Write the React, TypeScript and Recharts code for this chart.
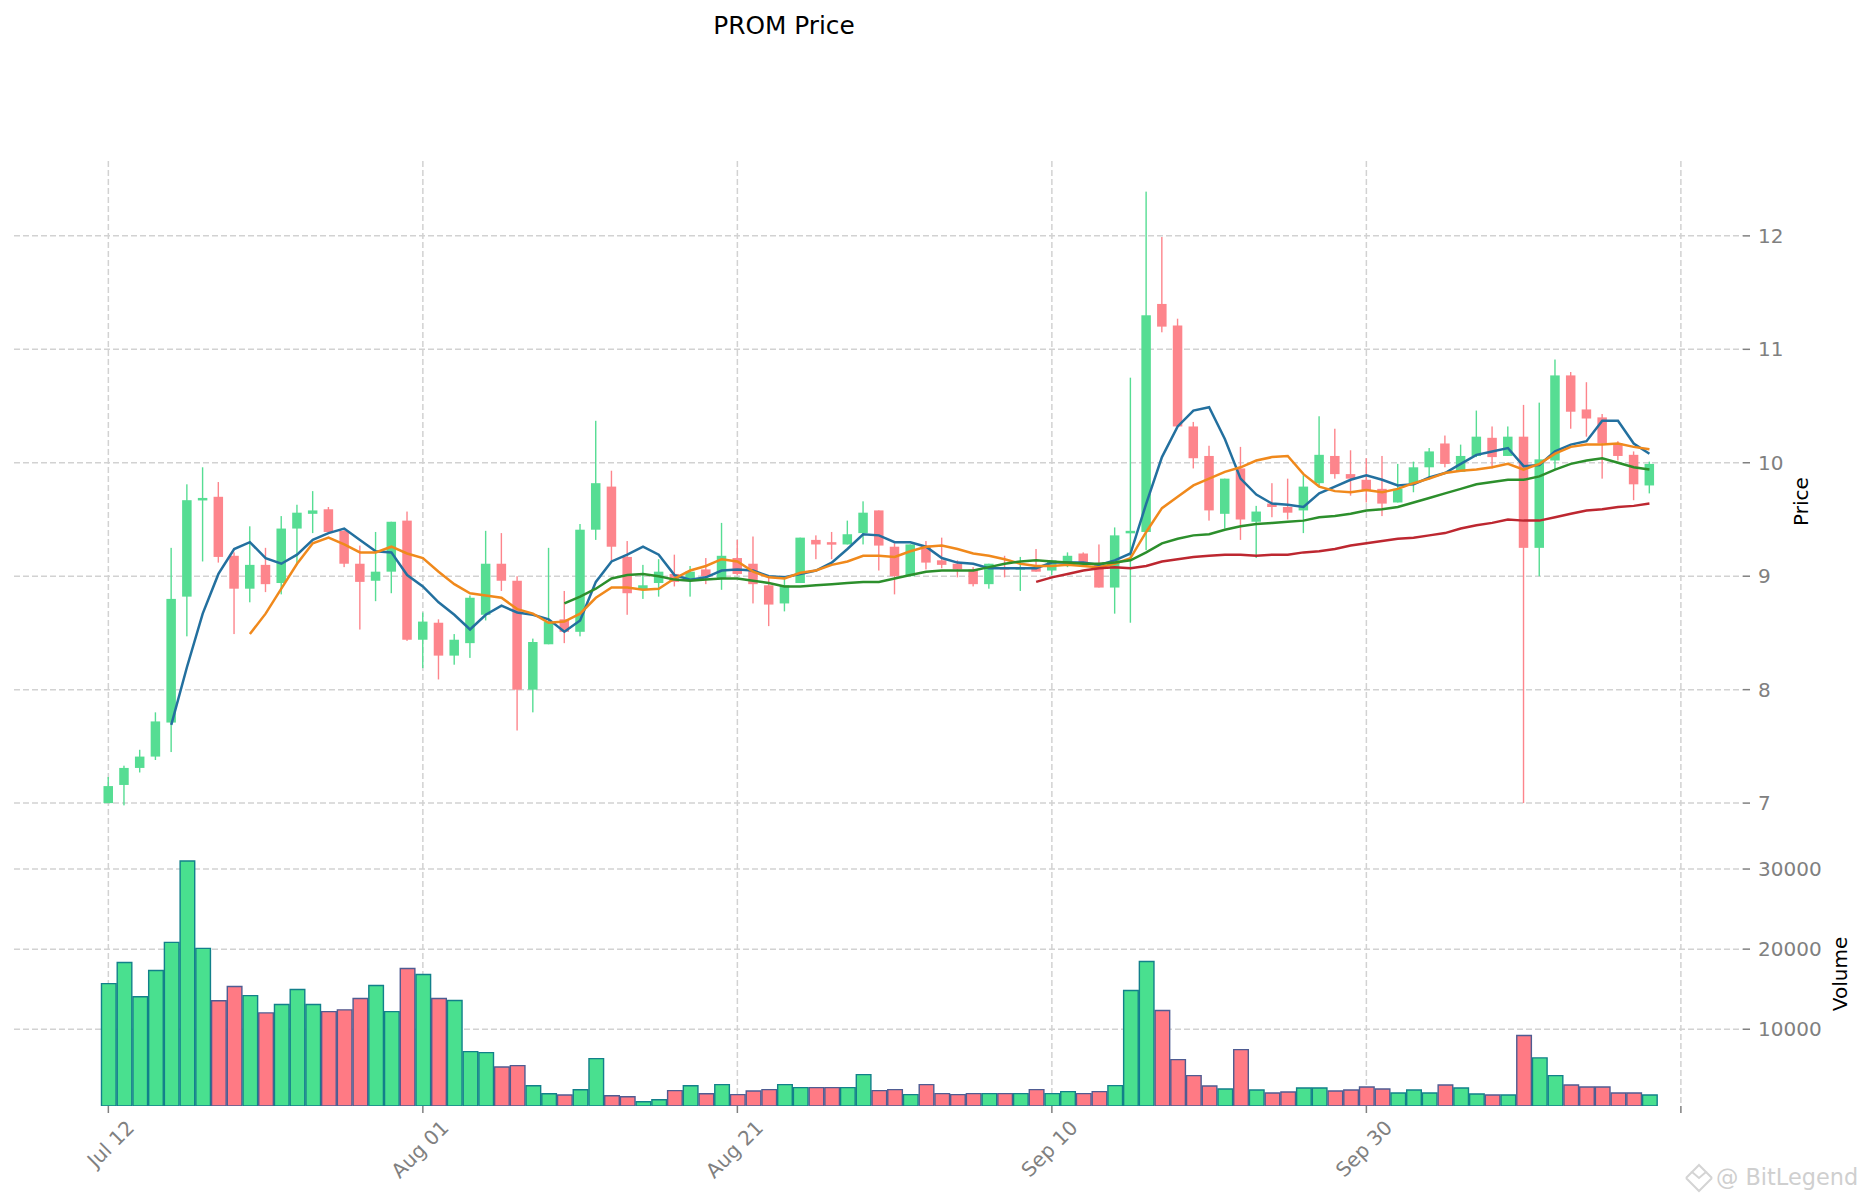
import { Bar, CartesianGrid, Cell, ComposedChart, Line, XAxis, YAxis } from "recharts";

const opens = [
  7.0, 7.16, 7.31, 7.41, 7.71, 8.82, 9.67, 9.7, 9.18, 8.89, 9.1, 8.94, 9.42, 9.55, 9.59, 9.4, 9.11, 8.96, 9.04, 9.49,
  8.44, 8.59, 8.3, 8.41, 8.66, 9.11, 8.96, 8.0, 8.4, 8.62, 8.51, 9.41, 9.79, 9.17, 8.88, 8.94, 9.02, 8.96, 9.06, 8.98,
  9.16, 9.11, 8.92, 8.76, 8.94, 9.32, 9.3, 9.28, 9.38, 9.58, 9.26, 9.0, 9.27, 9.14, 9.11, 9.06, 8.93, 9.08, 9.07, 9.08,
  9.05, 9.11, 9.2, 9.11, 8.9, 9.39, 9.39, 11.4, 11.21, 10.32, 10.06, 9.55, 9.95, 9.48, 9.64, 9.61, 9.58, 9.82, 10.06, 9.9,
  9.85, 9.77, 9.65, 9.82, 9.96, 10.17, 9.92, 10.06, 10.22, 10.06, 10.23, 9.25, 10.02, 10.77, 10.47, 10.4, 10.17, 10.07, 9.8,
];
const closes = [
  7.15, 7.31, 7.41, 7.72, 8.8, 9.67, 9.69, 9.17, 8.89, 9.1, 8.93, 9.42, 9.56, 9.58, 9.39, 9.11, 8.95, 9.04, 9.48, 8.44,
  8.6, 8.3, 8.44, 8.81, 9.11, 8.96, 8.0, 8.42, 8.6, 8.51, 9.41, 9.82, 9.26, 8.85, 8.92, 9.04, 8.95, 9.04, 9.0, 9.18,
  9.02, 8.93, 8.75, 8.92, 9.34, 9.28, 9.29, 9.37, 9.56, 9.27, 9.0, 9.28, 9.12, 9.1, 9.06, 8.93, 9.11, 9.06, 9.08, 9.04,
  9.14, 9.18, 9.11, 8.9, 9.36, 9.4, 11.3, 11.2, 10.32, 10.04, 9.58, 9.86, 9.5, 9.57, 9.61, 9.56, 9.79, 10.07, 9.9, 9.86,
  9.76, 9.64, 9.77, 9.96, 10.1, 9.99, 10.06, 10.23, 10.05, 10.23, 9.25, 10.03, 10.77, 10.45, 10.39, 10.17, 10.06, 9.81, 9.99,
];
const highs = [
  7.23, 7.33, 7.47, 7.8, 9.25, 9.81, 9.96, 9.83, 9.21, 9.44, 9.25, 9.53, 9.63, 9.75, 9.61, 9.41, 9.27, 9.39, 9.48, 9.57,
  8.68, 8.62, 8.49, 8.83, 9.4, 9.38, 9.0, 8.45, 9.25, 8.87, 9.46, 10.37, 9.93, 9.31, 9.1, 9.15, 9.19, 9.09, 9.16, 9.47,
  9.32, 9.35, 8.99, 8.98, 9.34, 9.36, 9.39, 9.49, 9.66, 9.58, 9.29, 9.28, 9.31, 9.34, 9.14, 9.08, 9.11, 9.18, 9.17, 9.24,
  9.14, 9.21, 9.21, 9.28, 9.43, 10.75, 12.39, 11.99, 11.27, 10.36, 10.15, 9.86, 10.14, 9.62, 9.82, 9.86, 9.89, 10.41, 10.3, 10.11,
  10.04, 10.06, 9.99, 10.01, 10.13, 10.24, 10.16, 10.46, 10.32, 10.32, 10.51, 10.53, 10.91, 10.8, 10.71, 10.43, 10.19, 10.1, 10.01,
];
const lows = [
  7.0, 6.98, 7.27, 7.38, 7.45, 8.47, 9.13, 9.12, 8.49, 8.77, 8.86, 8.84, 9.11, 9.38, 9.39, 9.08, 8.53, 8.78, 8.85, 8.43,
  8.19, 8.09, 8.22, 8.28, 8.61, 8.87, 7.64, 7.8, 8.4, 8.41, 8.47, 9.32, 9.14, 8.66, 8.8, 8.82, 8.91, 8.82, 8.93, 8.88,
  9.01, 8.76, 8.56, 8.69, 8.94, 9.15, 9.15, 9.28, 9.28, 9.05, 8.84, 9.0, 9.06, 9.07, 8.99, 8.91, 8.89, 8.99, 8.87, 9.04,
  9.01, 9.08, 9.1, 8.9, 8.67, 8.59, 9.23, 11.15, 10.32, 9.95, 9.49, 9.42, 9.32, 9.16, 9.52, 9.5, 9.38, 9.79, 9.86, 9.71,
  9.65, 9.53, 9.65, 9.74, 9.85, 9.96, 9.92, 10.05, 9.95, 10.06, 7.0, 9.0, 9.94, 10.3, 10.23, 9.86, 10.02, 9.67, 9.73,
];
const volumes = [
  15700, 18340, 14050, 17340, 20840, 31000, 20090, 13550, 15340, 14200, 12040, 13080, 14960, 13080, 12200, 12420, 13840, 15460, 12200, 17590,
  16840, 13840, 13590, 7210, 7080, 5290, 5460, 2950, 1950, 1790, 2450, 6330, 1700, 1580, 950, 1200, 2330, 2950, 1950, 3080,
  1830, 2290, 2460, 3080, 2710, 2710, 2710, 2710, 4330, 2330, 2460, 1830, 3080, 1960, 1830, 1960, 1960, 1960, 1960, 2460,
  1960, 2210, 1960, 2210, 2960, 14830, 18460, 12330, 6210, 4210, 2920, 2540, 7460, 2410, 2040, 2170, 2670, 2670, 2290, 2410,
  2790, 2540, 2040, 2410, 2040, 3040, 2670, 1920, 1790, 1790, 9210, 6420, 4210, 3040, 2790, 2790, 2040, 2040, 1790,
];

// moving averages; each one starts once its window is full
const ma5Start = 4;
const ma5 = [
  7.69, 8.2, 8.67, 9.02, 9.24, 9.3, 9.16, 9.11, 9.19, 9.32, 9.38, 9.42, 9.32, 9.22, 9.21, 9.01, 8.91, 8.77, 8.66, 8.53,
  8.66, 8.74, 8.68, 8.66, 8.62, 8.51, 8.61, 8.95, 9.13, 9.19, 9.26, 9.19, 9.01, 8.97, 8.99, 9.05, 9.06, 9.05, 9.0, 8.99,
  9.02, 9.05, 9.12, 9.24, 9.37, 9.36, 9.3, 9.3, 9.26, 9.16, 9.12, 9.11, 9.07, 9.07, 9.07, 9.07, 9.12, 9.12, 9.12, 9.1,
  9.14, 9.2, 9.64, 10.05, 10.32, 10.46, 10.49, 10.21, 9.86, 9.72, 9.64, 9.63, 9.61, 9.73, 9.79, 9.85, 9.89, 9.85, 9.8,
  9.81, 9.87, 9.91, 9.99, 10.07, 10.1, 10.13, 9.97, 9.98, 10.1, 10.16, 10.19, 10.37, 10.37, 10.17, 10.08,
];
const ma10Start = 9;
const ma10 = [
  8.49, 8.67, 8.89, 9.11, 9.29, 9.34, 9.28, 9.21, 9.21, 9.26, 9.2, 9.16, 9.04, 8.93, 8.85,
  8.83, 8.81, 8.71, 8.67, 8.59, 8.6, 8.67, 8.81, 8.9, 8.9, 8.88, 8.89, 8.98, 9.05, 9.09, 9.15, 9.13, 9.04, 8.99, 8.98,
  9.03, 9.05, 9.1, 9.13, 9.18, 9.18, 9.17, 9.22, 9.26, 9.27, 9.24, 9.2, 9.18, 9.15, 9.11, 9.09, 9.09, 9.1, 9.09, 9.08,
  9.11, 9.16, 9.39, 9.6, 9.7, 9.8, 9.86, 9.92, 9.96, 10.02, 10.05, 10.06, 9.9, 9.79, 9.75, 9.74, 9.76, 9.74, 9.77,
  9.82, 9.86, 9.91, 9.93, 9.94, 9.96, 9.99, 9.94, 9.99, 10.08, 10.14, 10.16, 10.16, 10.17, 10.14, 10.12,
];
const ma20Start = 29;
const ma20 = [
  8.76, 8.82, 8.89, 8.98, 9.01, 9.02, 9.0, 8.97, 8.96, 8.97, 8.98, 8.98, 8.96, 8.94, 8.91, 8.91, 8.92, 8.93, 8.94, 8.95,
  8.95, 8.98, 9.01, 9.04, 9.05, 9.05, 9.05, 9.08, 9.11, 9.13, 9.14, 9.13, 9.12, 9.11, 9.11, 9.12, 9.14, 9.21, 9.29, 9.33,
  9.36, 9.37, 9.41, 9.44, 9.46, 9.47, 9.48, 9.49, 9.52, 9.53, 9.55, 9.58, 9.59, 9.61, 9.65, 9.69, 9.73, 9.77, 9.81, 9.83,
  9.85, 9.85, 9.88, 9.94, 9.99, 10.02, 10.04, 10.0, 9.96, 9.94,
];
const ma50Start = 59;
const ma50 = [
  8.95, 8.99, 9.02, 9.05, 9.07, 9.08, 9.07, 9.09, 9.13, 9.15, 9.17, 9.18, 9.19, 9.19, 9.18, 9.19, 9.19, 9.21, 9.22, 9.24,
  9.27, 9.29, 9.31, 9.33, 9.34, 9.36, 9.38, 9.42, 9.45, 9.47, 9.5, 9.49, 9.49, 9.52, 9.55, 9.58, 9.59, 9.61, 9.62, 9.64,
];

const tickIndexes = [0, 20, 40, 60, 80, 100];
const tickLabels = ["Jul 12", "Aug 01", "Aug 21", "Sep 10", "Sep 30", ""];
const priceTicks = [7, 8, 9, 10, 11, 12];
const volumeTicks = [10000, 20000, 30000];

const rows = opens.map((open, i) => ({
  idx: i,
  open,
  close: closes[i],
  high: highs[i],
  low: lows[i],
  range: [lows[i], highs[i]],
  volume: volumes[i],
  ma5: ma5[i - ma5Start],
  ma10: ma10[i - ma10Start],
  ma20: ma20[i - ma20Start],
  ma50: ma50[i - ma50Start],
}));

const GREEN = "#56dd93";
const RED = "#fd858c";
const GREY = "#808080";
const GRID = "#d2d2d2";
const FONT = "'DejaVu Sans', sans-serif";
const xDomain = [-6, 103.95];

// wick spans the bar the library laid out for [low, high]; body is placed inside it
function Candle(props: any) {
  const { x, y, width, height, payload } = props;
  const perUnit = height / (payload.high - payload.low);
  const top = y + (payload.high - Math.max(payload.open, payload.close)) * perUnit;
  const bodyHeight = Math.max(Math.abs(payload.open - payload.close) * perUnit, 2.5);
  const color = payload.close >= payload.open ? GREEN : RED;
  return (
    <g>
      <rect x={x + width / 2 - 0.7} y={y} width={1.4} height={height} fill={color} />
      <rect x={x} y={top} width={width} height={bodyHeight} fill={color} />
    </g>
  );
}

export default function App() {
  return (
    <div style={{ position: "absolute", left: 0, top: 0, width: 1867, height: 1202, background: "#fff", fontFamily: FONT, overflow: "hidden" }}>
      <div style={{ position: "absolute", left: 584, width: 400, top: 11, textAlign: "center", fontSize: 24.8, lineHeight: "30px", color: "#000" }}>
        PROM Price
      </div>

      {/* price panel */}
      <div style={{ position: "absolute", left: 0, top: 0 }}>
        <ComposedChart width={1867} height={836} data={rows} margin={{ top: 161, right: 0, bottom: 0, left: 14 }}>
          <CartesianGrid stroke={GRID} strokeWidth={1.5} strokeDasharray="6 3" syncWithTicks />
          <XAxis dataKey="idx" type="number" domain={xDomain} ticks={tickIndexes} hide allowDataOverflow />
          <YAxis
            orientation="right"
            width={124}
            domain={[6.71, 12.66]}
            ticks={priceTicks}
            interval={0}
            allowDataOverflow
            axisLine={false}
            tickSize={7}
            tickMargin={8}
            tickLine={{ stroke: GREY, strokeWidth: 1.5 }}
            tick={{ fill: GREY, fontSize: 20, fontFamily: FONT }}
            label={{ value: "Price", angle: -90, position: "center", dx: -4, dy: 3, fill: "#000", fontSize: 20, fontFamily: FONT }}
          />
          <Bar dataKey="range" barSize={9.5} shape={<Candle />} isAnimationActive={false} />
          <Line dataKey="ma5" stroke="#23709f" strokeWidth={2.5} dot={false} isAnimationActive={false} />
          <Line dataKey="ma10" stroke="#f0891c" strokeWidth={2.5} dot={false} isAnimationActive={false} />
          <Line dataKey="ma20" stroke="#2c8f2c" strokeWidth={2.5} dot={false} isAnimationActive={false} />
          <Line dataKey="ma50" stroke="#bd2730" strokeWidth={2.5} dot={false} isAnimationActive={false} />
        </ComposedChart>
      </div>

      {/* volume panel */}
      <div style={{ position: "absolute", left: 0, top: 836 }}>
        <ComposedChart width={1867} height={366} data={rows} margin={{ top: 0, right: 0, bottom: 0, left: 14 }}>
          <CartesianGrid stroke={GRID} strokeWidth={1.5} strokeDasharray="6 3" syncWithTicks />
          <XAxis
            dataKey="idx"
            type="number"
            domain={xDomain}
            ticks={tickIndexes}
            interval={0}
            allowDataOverflow
            height={96}
            axisLine={false}
            tickSize={7}
            tickMargin={6}
            tickLine={{ stroke: GREY, strokeWidth: 1.5 }}
            tick={{ fill: GREY, fontSize: 20, fontFamily: FONT, dx: 17 }}
            angle={-45}
            textAnchor="end"
            tickFormatter={(v: number) => tickLabels[tickIndexes.indexOf(v)]}
          />
          <YAxis
            orientation="right"
            width={124}
            domain={[416, 34125]}
            ticks={volumeTicks}
            interval={0}
            allowDataOverflow
            axisLine={false}
            tickSize={7}
            tickMargin={8}
            tickLine={{ stroke: GREY, strokeWidth: 1.5 }}
            tick={{ fill: GREY, fontSize: 20, fontFamily: FONT }}
            label={{ value: "Volume", angle: -90, position: "center", dx: 35, dy: 3, fill: "#000", fontSize: 20, fontFamily: FONT }}
          />
          <Bar dataKey="volume" barSize={14.6} strokeWidth={1.4} isAnimationActive={false}>
            {rows.map((r) => (
              <Cell
                key={r.idx}
                fill={r.close >= r.open ? "#49e08f" : "#ff7a84"}
                stroke={r.close >= r.open ? "#12808a" : "#4f5c92"}
              />
            ))}
          </Bar>
        </ComposedChart>
      </div>

      {/* watermark */}
      <svg style={{ position: "absolute", left: 1684, top: 1163 }} width={30} height={30} viewBox="0 0 30 30" fill="none" stroke="#d4d4d4" strokeWidth={2}>
        <path d="M15 2 L22 9 L15 15 L8 9 Z" />
        <path d="M2 15 L8 9 M28 15 L22 9 M2 15 L15 28 L28 15" />
      </svg>
      <div style={{ position: "absolute", left: 1716, top: 1163, fontSize: 22.4, lineHeight: "28px", color: "#cfcfcf", whiteSpace: "nowrap" }}>
        @ BitLegend
      </div>
    </div>
  );
}
